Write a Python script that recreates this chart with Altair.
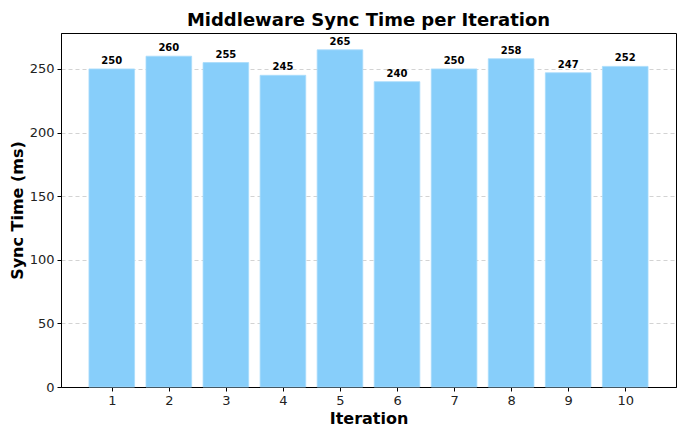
import altair as alt
import pandas as pd

iterations = [1, 2, 3, 4, 5, 6, 7, 8, 9, 10]
sync_times = [250, 260, 255, 245, 265, 240, 250, 258, 247, 252]

df = pd.DataFrame({"iteration": iterations, "sync": sync_times})
df["x0"] = df["iteration"] - 0.4
df["x1"] = df["iteration"] + 0.4

FONT = "DejaVu Sans"

xscale = alt.Scale(domain=[0.11, 10.89], nice=False, zero=False)
yscale = alt.Scale(domain=[0, 278.25], nice=False)

base = alt.Chart(df)

bars = base.mark_bar(color="#87CEFA", stroke="#a8dcfb", strokeWidth=0.8).encode(
    x=alt.X("x0:Q", scale=xscale,
            axis=alt.Axis(values=iterations, format="d", title="Iteration", grid=False,
                          tickSize=4, labelPadding=3, titlePadding=3,
                          labelFontSize=13, titleFontSize=16, titleFontWeight="bold",
                          labelFont=FONT, titleFont=FONT, domain=True,
                          domainColor="black", domainWidth=1,
                          tickColor="black", labelColor="#222", titleColor="black")),
    x2="x1:Q",
    y=alt.Y("sync:Q", scale=yscale,
            axis=alt.Axis(values=[0, 50, 100, 150, 200, 250], title="Sync Time (ms)",
                          grid=True, gridDash=[4, 3], gridColor="#c8c8c8", gridWidth=0.8,
                          tickSize=4, labelPadding=3, titlePadding=4,
                          labelFontSize=13, titleFontSize=16, titleFontWeight="bold",
                          labelFont=FONT, titleFont=FONT, domain=True,
                          domainColor="black", domainWidth=1,
                          tickColor="black", labelColor="#222", titleColor="black")),
    y2=alt.datum(0),
)

labels = base.mark_text(baseline="bottom", dy=-3, fontSize=10, fontWeight="bold",
                        font=FONT, color="black").encode(
    x=alt.X("iteration:Q", scale=xscale),
    y=alt.Y("sync:Q", scale=yscale),
    text=alt.Text("sync:Q"),
)

chart = (bars + labels).properties(
    width=615,
    height=354,
    title=alt.Title("Middleware Sync Time per Iteration", font=FONT, fontSize=18,
                    fontWeight="bold", color="black", offset=3),
    autosize=alt.AutoSizeParams(type="none"),
    padding={"left": 53, "top": 25, "right": 1, "bottom": 40},
).configure_view(stroke="black", strokeWidth=1)

chart.save("out.html", embed_options={"renderer": "svg", "actions": False})
